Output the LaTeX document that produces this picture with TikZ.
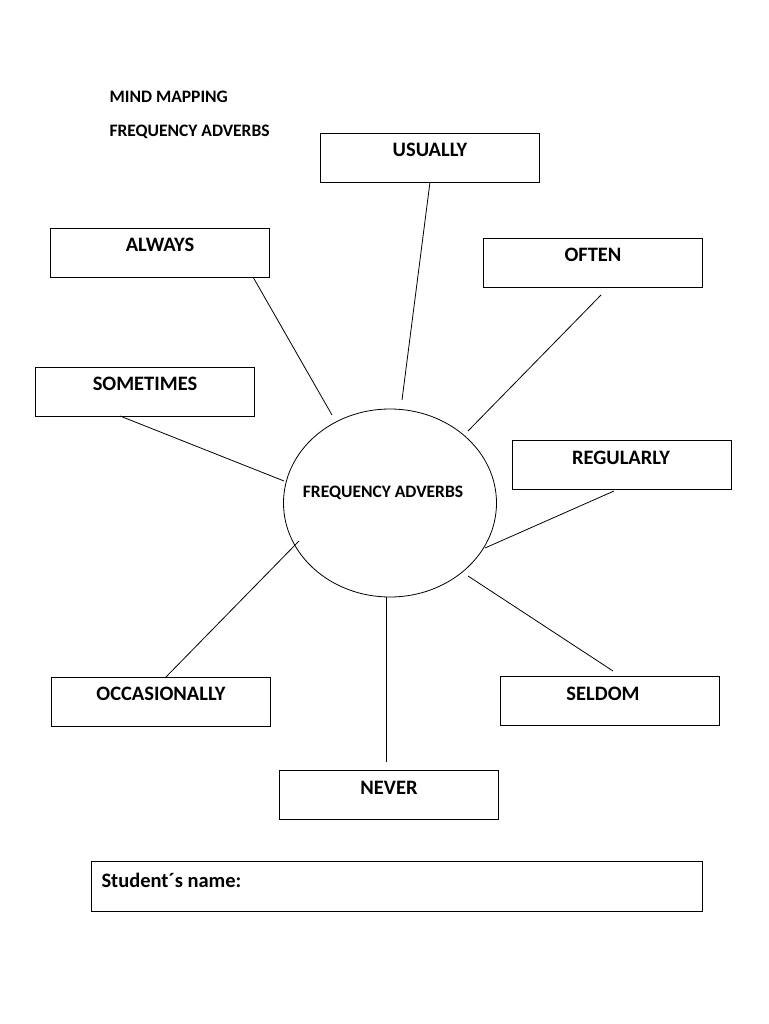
\documentclass[tikz,border=0pt]{standalone}
\usepackage{fontspec}
\setmainfont{Carlito}
\usetikzlibrary{shapes.geometric}
\begin{document}
\begin{tikzpicture}[x=1pt,y=-1pt,
  wbox/.style={draw,line width=0.8pt,minimum width=219pt,minimum height=49pt,inner sep=0pt},
  lbl/.style={font=\bfseries\fontsize{20.5}{24}\selectfont,anchor=center},
  small/.style={font=\bfseries\fontsize{17.5}{20}\selectfont,anchor=west},
  ln/.style={line width=0.8pt}]
\useasboundingbox (0,0) rectangle (768,1024);
\node[small] (t1) at (106,97) {MIND MAPPING};
\node[small] (t2) at (106,132) {FREQUENCY ADVERBS};
\node[draw,line width=0.8pt,ellipse,minimum width=213pt,minimum height=188pt,inner sep=0pt] (c) at (390,503) {};
\node[font=\bfseries\fontsize{17.5}{20}\selectfont] (ct) at (383,493) {FREQUENCY ADVERBS};
\node[wbox] (usually) at (429.5,157.5) {}; \node[lbl] at (430,150) {USUALLY};
\node[wbox] (always) at (160,252.5) {}; \node[lbl] at (160,245) {ALWAYS};
\node[wbox] (often) at (593,262.5) {}; \node[lbl] at (593,255) {OFTEN};
\node[wbox] (sometimes) at (145,391.5) {}; \node[lbl] at (145,384) {SOMETIMES};
\node[wbox] (regularly) at (621.5,465) {}; \node[lbl] at (621,458) {REGULARLY};
\node[wbox] (occ) at (161,702) {}; \node[lbl] at (161,694) {OCCASIONALLY};
\node[wbox] (seldom) at (610,701) {}; \node[lbl] at (603,694) {SELDOM};
\node[wbox] (never) at (388.5,794.5) {}; \node[lbl] at (389,788) {NEVER};
\node[draw,line width=0.8pt,minimum width=611pt,minimum height=50pt] (student) at (396.5,886) {};
\node[lbl,anchor=west] at (98,880) {Student´s name:};
\coordinate (a1) at (430,182); \coordinate (b1) at (402,400);
\coordinate (a2) at (253,277); \coordinate (b2) at (332,415);
\coordinate (a3) at (601,295); \coordinate (b3) at (468,431);
\coordinate (a4) at (120,416); \coordinate (b4) at (284,481);
\coordinate (a5) at (614,491); \coordinate (b5) at (485,548);
\coordinate (a6) at (165,678); \coordinate (b6) at (299,541);
\coordinate (a7) at (613,671); \coordinate (b7) at (468,576);
\coordinate (a8) at (386,762); \coordinate (b8) at (386,597);
\foreach \i in {1,...,8} \draw[ln] (a\i) -- (b\i);
\end{tikzpicture}
\end{document}
